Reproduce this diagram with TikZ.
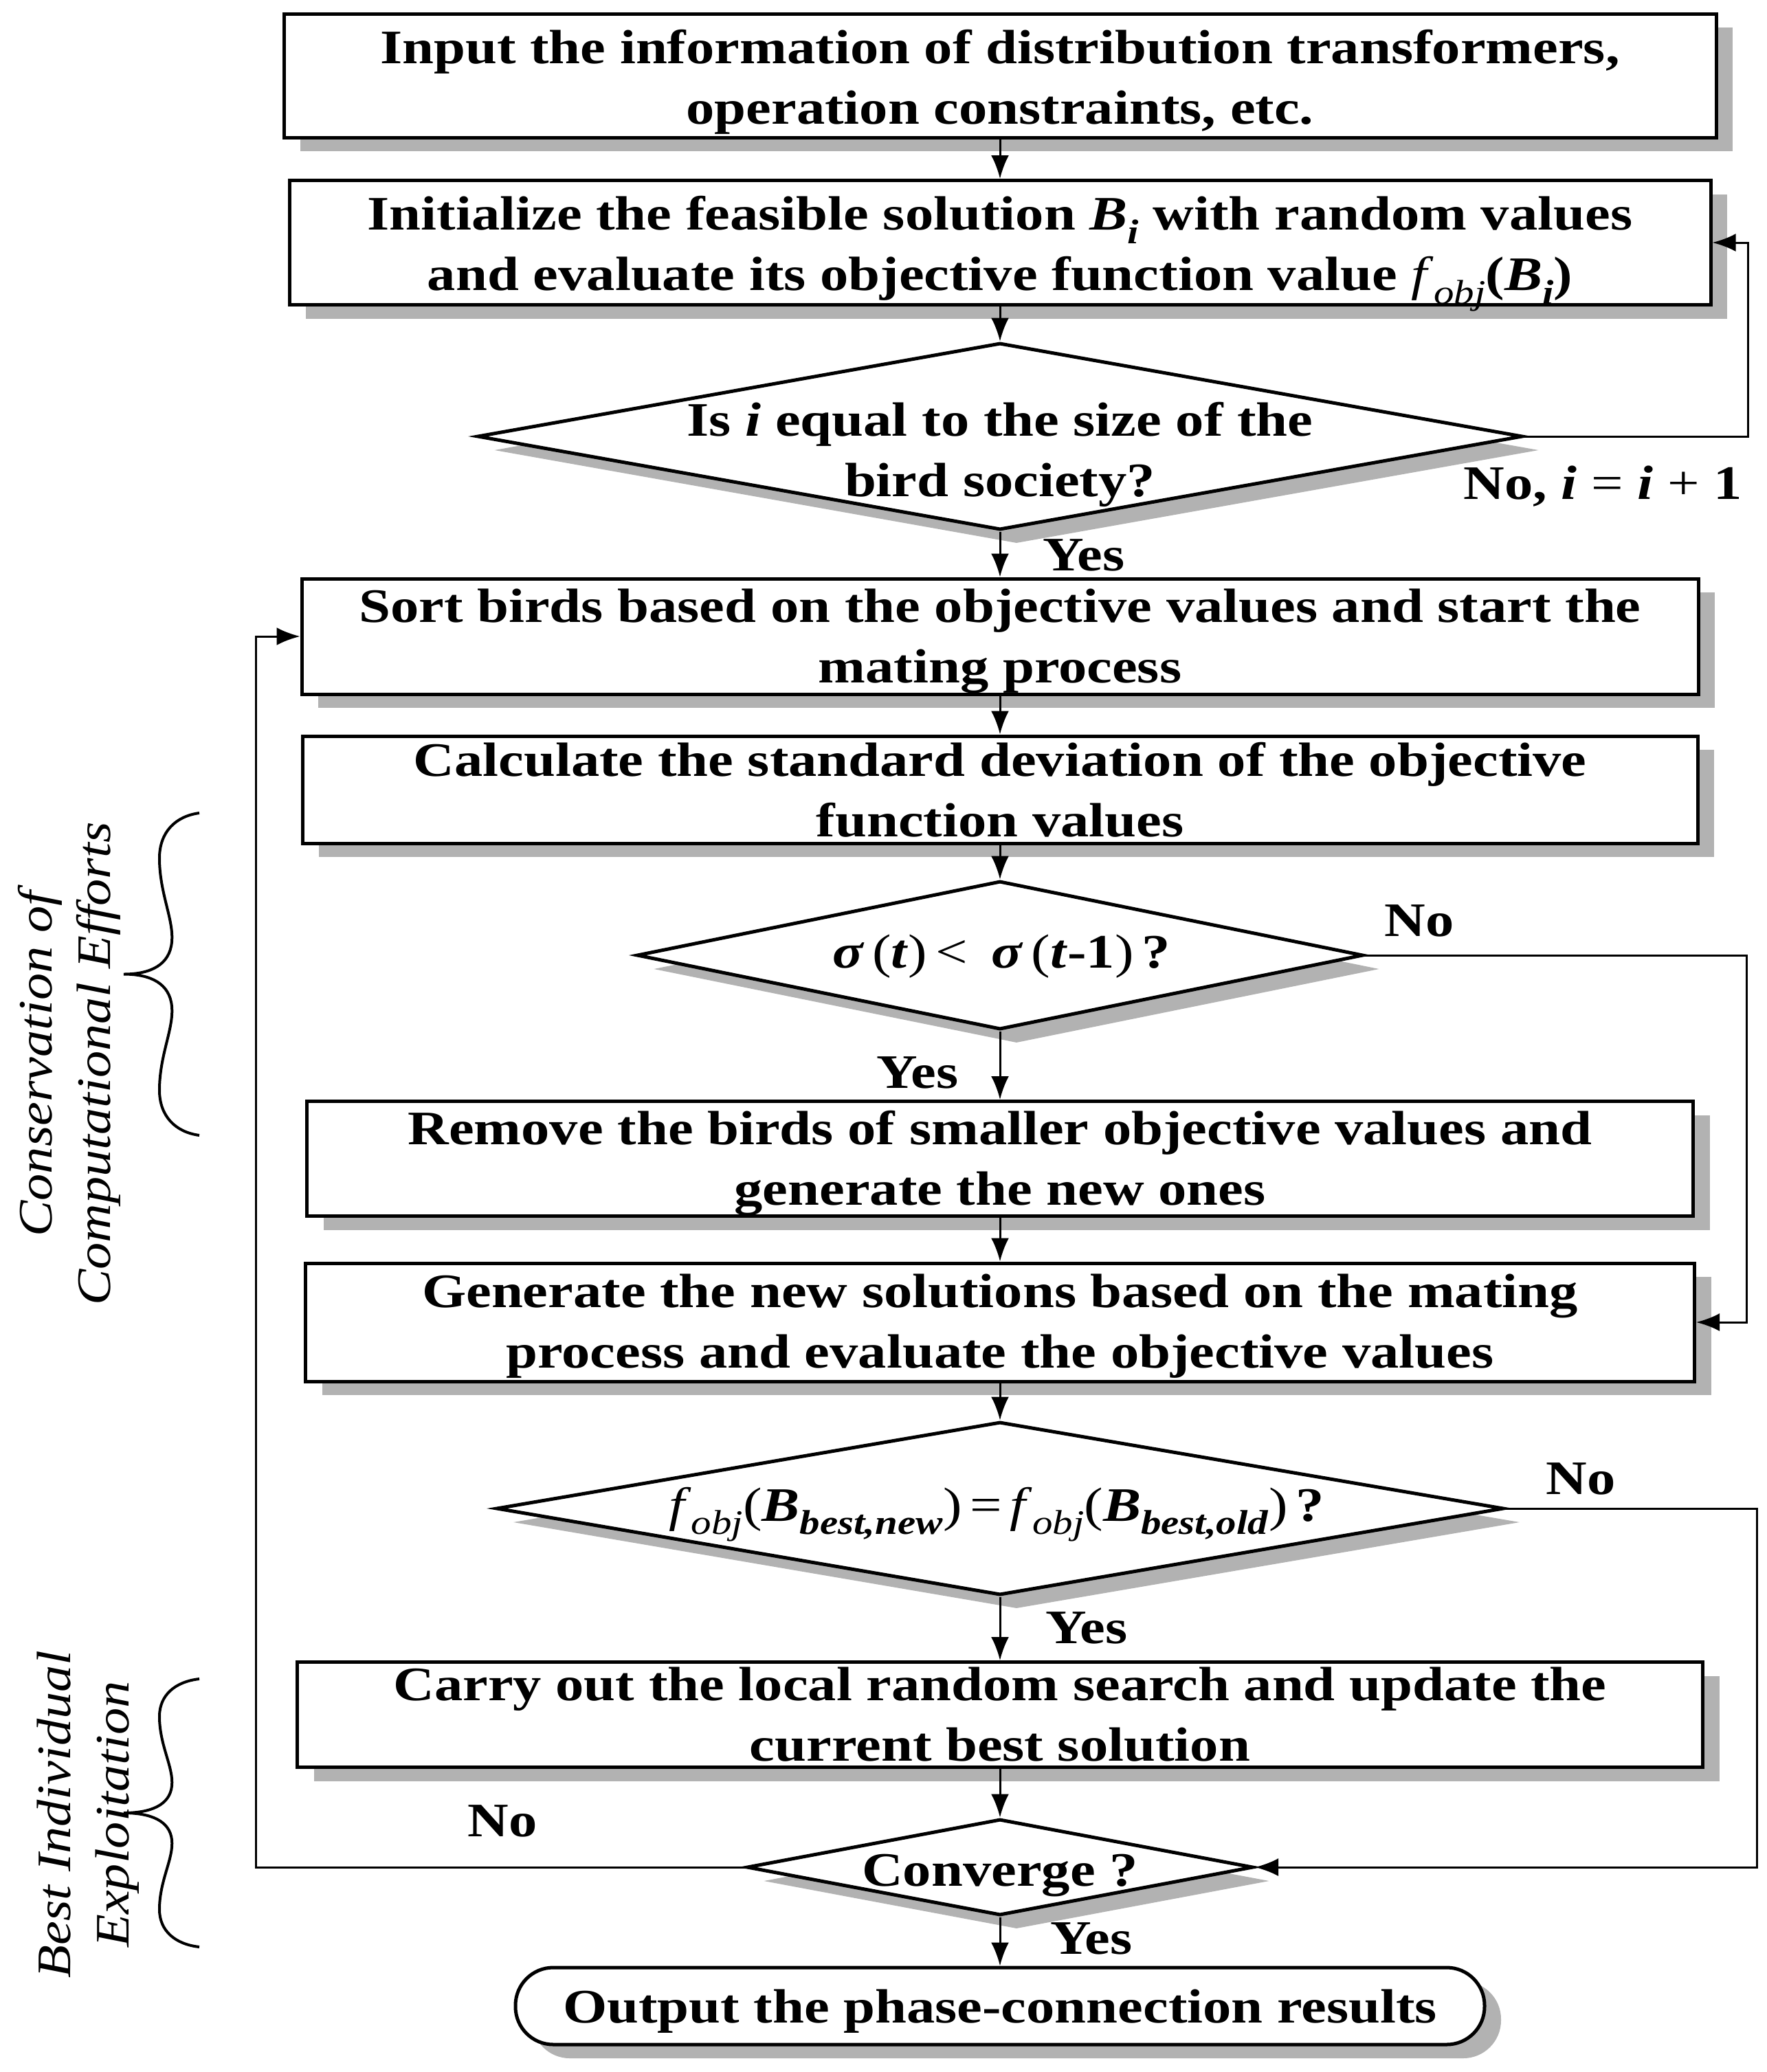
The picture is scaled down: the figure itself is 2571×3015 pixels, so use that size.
\documentclass[tikz,border=0pt]{standalone}
\usepackage{fontspec}
\setmainfont{Liberation Serif}[FakeStretch=1.18]
\newfontfamily\sidefont{Liberation Serif}[FakeStretch=1.12]
\usetikzlibrary{shapes.geometric,shadows,arrows.meta}
\newcommand\sbs[1]{\raisebox{-0.28em}[0pt][0pt]{\fontsize{50}{50}\selectfont #1}}
\newcommand\Bsym[1]{\textit{B}\sbs{\textit{#1}}}
\newcommand\fobj{{\mdseries\textit{f}\sbs{\textit{obj}}}}
\newcommand\dn[1]{\rule{0pt}{#1pt}}
\tikzset{
  base/.style={font=\fontsize{70}{88}\selectfont\bfseries},
  shad/.style={drop shadow={shadow xshift=24pt, shadow yshift=-20pt, fill=black!30, opacity=1}},
  proc/.style={base, draw, line width=5pt, fill=white, rectangle, inner sep=0pt, align=center, shad},
  decision/.style={draw, line width=5pt, fill=white, diamond, inner sep=0pt, shad},
  term/.style={proc, rounded corners=55pt},
  lbl/.style={base, inner sep=0pt, align=center},
  conn/.style={line width=3pt, -{Latex[length=34pt,width=26pt]}},
  side/.style={font=\fontsize{70}{85}\selectfont\sidefont\itshape, rotate=90, inner sep=0pt},
  wbrace/.pic={\draw[line width=4pt] (0,0) .. controls (-35,0.01) and (-58,0.06) .. (-58,0.14)
     .. controls (-58,0.25) and (-37,0.33) .. (-40,0.40)
     .. controls (-43,0.47) and (-70,0.5) .. (-110,0.5)
     .. controls (-70,0.5) and (-43,0.53) .. (-40,0.60)
     .. controls (-37,0.67) and (-58,0.75) .. (-58,0.86)
     .. controls (-58,0.94) and (-35,0.99) .. (0,1);}
}
\begin{document}
\begin{tikzpicture}[x=1pt,y=-1pt]
\fill[white] (0,0) rectangle (2571,3015);
\useasboundingbox (0,0) rectangle (2571,3015);

\node[proc, minimum width=2084pt, minimum height=180pt] (b1) at (1455,110)
  {\dn{67}Input the information of distribution transformers,\\operation constraints, etc.};
\node[proc, minimum width=2068pt, minimum height=181pt] (b2) at (1455,353)
  {\dn{66}Initialize the feasible solution \Bsym{i} with random values\\and evaluate its objective function value \fobj(\Bsym{i})};
\node[decision, minimum width=1521pt, minimum height=272pt] (d1) at (1455,635) {};
\node[lbl] (t1) at (1455,661) {Is \textit{i} equal to the size of the\\bird society?};
\node[proc, minimum width=2032pt, minimum height=168pt] (b3) at (1455,926)
  {\dn{63}Sort birds based on the objective values and start the\\mating process};
\node[proc, minimum width=2030pt, minimum height=156pt] (b4) at (1455,1149)
  {Calculate the standard deviation of the objective\\function values};
\node[decision, minimum width=1057pt, minimum height=216pt] (d2) at (1455,1390) {};
\node[lbl] (t2) at (1457,1392) {\textit{σ}\,{\mdseries(}\textit{t}{\mdseries)}\,{\mdseries<}\enspace\textit{σ}\,{\mdseries(}\textit{t}-1{\mdseries)}\,?};
\node[proc, minimum width=2017pt, minimum height=167pt] (b5) at (1455,1686)
  {\dn{63}Remove the birds of smaller objective values and\\generate the new ones};
\node[proc, minimum width=2021pt, minimum height=172pt] (b6) at (1455,1924)
  {\dn{60}Generate the new solutions based on the mating\\process and evaluate the objective values};
\node[decision, minimum width=1466pt, minimum height=252pt] (d3) at (1455,2195) {};
\node[lbl] (t3) at (1450,2196) {\fobj{\mdseries(}\Bsym{best,new}{\mdseries)}\,{\mdseries=}\,\fobj{\mdseries(}\Bsym{best,old}{\mdseries)}\,?};
\node[proc, minimum width=2045pt, minimum height=153pt] (b7) at (1455,2495)
  {Carry out the local random search and update the\\current best solution};
\node[decision, minimum width=737pt, minimum height=140pt] (d4) at (1455,2717) {};
\node[lbl] (t4) at (1455,2729) {Converge ?};
\node[term, minimum width=1410pt, minimum height=112pt] (out) at (1455,2919)
  {\dn{63}Output the phase-connection results};

% connectors
\draw[conn] (b1.south) -- (b2.north);
\draw[conn] (b2.south) -- (d1.north);
\draw[conn] (d1.east) -- ++(325,0) |- (b2.east);
\draw[conn] (d1.south) -- (b3.north);
\draw[conn] (b3.south) -- (b4.north);
\draw[conn] (b4.south) -- (d2.north);
\draw[conn] (d2.south) -- (b5.north);
\draw[conn] (d2.east) -- ++(555,0) |- (b6.east);
\draw[conn] (b5.south) -- (b6.north);
\draw[conn] (b6.south) -- (d3.north);
\draw[conn] (d3.south) -- (b7.north);
\draw[conn] (d3.east) -- ++(366,0) |- (d4.east);
\draw[conn] (b7.south) -- (d4.north);
\draw[conn] (d4.west) -- ++(-712,0) |- (b3.west);
\draw[conn] (d4.south) -- (out.north);

% labels
\node[lbl] (y1) at (1577,808) {Yes};
\node[lbl] (y2) at (1335,1561) {Yes};
\node[lbl] (y3) at (1581,2369) {Yes};
\node[lbl] (y4) at (1588,2821) {Yes};
\node[lbl] (n1) at (2332,708) {No, \textit{i} {\mdseries=} \textit{i} {\mdseries+} 1};
\node[lbl] (n2) at (2065,1340) {No};
\node[lbl] (n3) at (2300,2152) {No};
\node[lbl] (n4) at (731,2650) {No};

% side annotations
\pic[yscale=469] at (290,1183) {wbrace};
\pic[yscale=390] at (290,2443) {wbrace};
\node[side, align=center] (s1) at (101,1548) {Conservation of\\Computational Efforts};
\node[side, align=center] (s2) at (128,2640) {Best Individual\\Exploitation};
\end{tikzpicture}
\end{document}
